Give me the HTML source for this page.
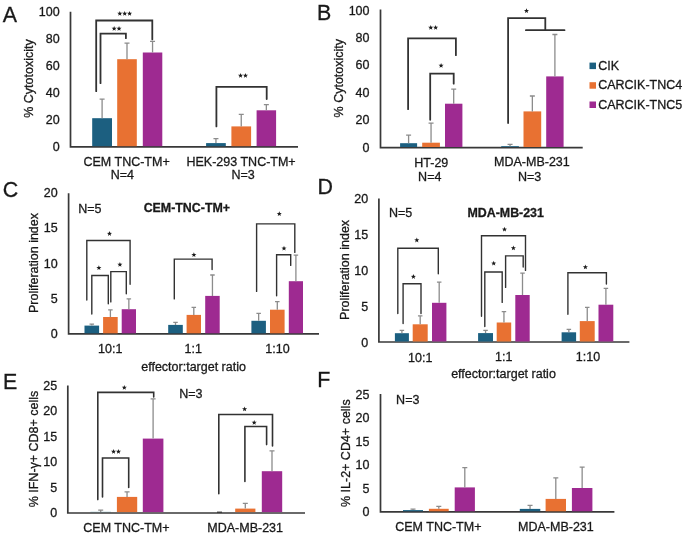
<!DOCTYPE html>
<html><head><meta charset="utf-8"><style>
html,body{margin:0;padding:0;background:#fff;}
svg{display:block;will-change:transform;}
text{font-family:"Liberation Sans",sans-serif;fill:#1a1a1a;stroke:#1a1a1a;stroke-width:0.3px;}
</style></head><body>
<svg width="685" height="537" viewBox="0 0 685 537">
<defs><filter id="bl" x="0" y="0" width="100%" height="100%"><feGaussianBlur stdDeviation="0.35"/></filter></defs>
<rect width="685" height="537" fill="#fff"/>
<g filter="url(#bl)">
<text x="9.9" y="22" text-anchor="middle" font-size="21.4" font-weight="normal" >A</text>
<path d="M70.5,11.8 V146.8 H298" fill="none" stroke="#383838" stroke-width="1.7" stroke-linecap="butt" stroke-linejoin="miter"/>
<text x="59.6" y="16.05" text-anchor="end" font-size="12.5" font-weight="normal" >100</text>
<text x="59.6" y="43.04" text-anchor="end" font-size="12.5" font-weight="normal" >80</text>
<text x="59.6" y="70.03" text-anchor="end" font-size="12.5" font-weight="normal" >60</text>
<text x="59.6" y="97.02" text-anchor="end" font-size="12.5" font-weight="normal" >40</text>
<text x="59.6" y="124.00999999999999" text-anchor="end" font-size="12.5" font-weight="normal" >20</text>
<text x="59.6" y="151.0" text-anchor="end" font-size="12.5" font-weight="normal" >0</text>
<text x="0" y="0" text-anchor="middle" font-size="12.5" transform="translate(33,78.5) rotate(-90)">% Cytotoxicity</text>
<rect x="92.2" y="118.2" width="19.80" height="28.00" fill="#1b5f80"/>
<path d="M102.10,118.2 V99.2 M99.60,99.2 H104.60" stroke="#8c8c8c" stroke-width="1.3" fill="none"/>
<rect x="117.2" y="59.2" width="19.60" height="87.00" fill="#e87131"/>
<path d="M127.00,59.2 V43.2 M124.50,43.2 H129.50" stroke="#8c8c8c" stroke-width="1.3" fill="none"/>
<rect x="142.8" y="52.5" width="19.50" height="93.70" fill="#9e2b91"/>
<path d="M152.55,52.5 V41.3 M150.05,41.3 H155.05" stroke="#8c8c8c" stroke-width="1.3" fill="none"/>
<rect x="206.1" y="143.1" width="19.70" height="3.10" fill="#1b5f80"/>
<path d="M215.95,143.1 V138.7 M213.45,138.7 H218.45" stroke="#8c8c8c" stroke-width="1.3" fill="none"/>
<rect x="231.4" y="126.4" width="19.70" height="19.80" fill="#e87131"/>
<path d="M241.25,126.4 V114.3 M238.75,114.3 H243.75" stroke="#8c8c8c" stroke-width="1.3" fill="none"/>
<rect x="256.6" y="110.3" width="19.50" height="35.90" fill="#9e2b91"/>
<path d="M266.35,110.3 V104.7 M263.85,104.7 H268.85" stroke="#8c8c8c" stroke-width="1.3" fill="none"/>
<path d="M96.2,91.2 V20.5 H152.3 V39.4" fill="none" stroke="#333333" stroke-width="1.8" stroke-linecap="round" stroke-linejoin="miter"/>
<polygon points="119.80,10.90 120.45,12.65 122.32,12.73 120.86,13.89 121.36,15.69 119.80,14.66 118.24,15.69 118.74,13.89 117.28,12.73 119.15,12.65" fill="#1a1a1a"/>
<polygon points="124.70,10.90 125.35,12.65 127.22,12.73 125.76,13.89 126.26,15.69 124.70,14.66 123.14,15.69 123.64,13.89 122.18,12.73 124.05,12.65" fill="#1a1a1a"/>
<polygon points="129.60,10.90 130.25,12.65 132.12,12.73 130.66,13.89 131.16,15.69 129.60,14.66 128.04,15.69 128.54,13.89 127.08,12.73 128.95,12.65" fill="#1a1a1a"/>
<path d="M100.5,83.2 V33.6 H125.9 V38.2" fill="none" stroke="#333333" stroke-width="1.8" stroke-linecap="round" stroke-linejoin="miter"/>
<polygon points="114.15,25.90 114.80,27.65 116.67,27.73 115.21,28.89 115.71,30.69 114.15,29.66 112.59,30.69 113.09,28.89 111.63,27.73 113.50,27.65" fill="#1a1a1a"/>
<polygon points="119.05,25.90 119.70,27.65 121.57,27.73 120.11,28.89 120.61,30.69 119.05,29.66 117.49,30.69 117.99,28.89 116.53,27.73 118.40,27.65" fill="#1a1a1a"/>
<path d="M216.4,126.4 V86.8 H266.7 V99.1" fill="none" stroke="#333333" stroke-width="1.8" stroke-linecap="round" stroke-linejoin="miter"/>
<polygon points="240.55,72.90 241.20,74.65 243.07,74.73 241.61,75.89 242.11,77.69 240.55,76.66 238.99,77.69 239.49,75.89 238.03,74.73 239.90,74.65" fill="#1a1a1a"/>
<polygon points="245.45,72.90 246.10,74.65 247.97,74.73 246.51,75.89 247.01,77.69 245.45,76.66 243.89,77.69 244.39,75.89 242.93,74.73 244.80,74.65" fill="#1a1a1a"/>
<text x="126.6" y="165.8" text-anchor="middle" font-size="12.5" font-weight="normal" >CEM TNC-TM+</text>
<text x="122.4" y="179.2" text-anchor="middle" font-size="12.5" font-weight="normal" >N=4</text>
<text x="241.1" y="166.3" text-anchor="middle" font-size="12.5" font-weight="normal" >HEK-293 TNC-TM+</text>
<text x="243.1" y="178.9" text-anchor="middle" font-size="12.5" font-weight="normal" >N=3</text>
<text x="324.2" y="20.1" text-anchor="middle" font-size="21.4" font-weight="normal" >B</text>
<path d="M380.5,9.4 V147.7 H582.7" fill="none" stroke="#383838" stroke-width="1.7" stroke-linecap="butt" stroke-linejoin="miter"/>
<text x="369.5" y="14.5" text-anchor="end" font-size="12.5" font-weight="normal" >100</text>
<text x="369.5" y="41.96" text-anchor="end" font-size="12.5" font-weight="normal" >80</text>
<text x="369.5" y="69.42" text-anchor="end" font-size="12.5" font-weight="normal" >60</text>
<text x="369.5" y="96.88" text-anchor="end" font-size="12.5" font-weight="normal" >40</text>
<text x="369.5" y="124.34" text-anchor="end" font-size="12.5" font-weight="normal" >20</text>
<text x="369.5" y="151.8" text-anchor="end" font-size="12.5" font-weight="normal" >0</text>
<text x="0" y="0" text-anchor="middle" font-size="12.5" transform="translate(343.2,78.2) rotate(-90)">% Cytotoxicity</text>
<rect x="400.1" y="143.2" width="17.00" height="3.80" fill="#1b5f80"/>
<path d="M408.60,143.2 V135.2 M406.10,135.2 H411.10" stroke="#8c8c8c" stroke-width="1.3" fill="none"/>
<rect x="422.2" y="142.7" width="17.70" height="4.30" fill="#e87131"/>
<path d="M431.05,142.7 V123.1 M428.55,123.1 H433.55" stroke="#8c8c8c" stroke-width="1.3" fill="none"/>
<rect x="445" y="103.7" width="17.40" height="43.30" fill="#9e2b91"/>
<path d="M453.70,103.7 V89.2 M451.20,89.2 H456.20" stroke="#8c8c8c" stroke-width="1.3" fill="none"/>
<rect x="501.2" y="146.2" width="17.70" height="0.80" fill="#1b5f80"/>
<path d="M510.05,146.2 V144.4 M507.55,144.4 H512.55" stroke="#8c8c8c" stroke-width="1.3" fill="none"/>
<rect x="523.5" y="111.4" width="17.70" height="35.60" fill="#e87131"/>
<path d="M532.35,111.4 V96 M529.85,96 H534.85" stroke="#8c8c8c" stroke-width="1.3" fill="none"/>
<rect x="546.2" y="76.4" width="17.40" height="70.60" fill="#9e2b91"/>
<path d="M554.90,76.4 V34.5 M552.40,34.5 H557.40" stroke="#8c8c8c" stroke-width="1.3" fill="none"/>
<path d="M408.1,109.2 V38.4 H455.9 V55.2" fill="none" stroke="#333333" stroke-width="1.8" stroke-linecap="round" stroke-linejoin="miter"/>
<polygon points="430.75,24.90 431.40,26.65 433.27,26.73 431.81,27.89 432.31,29.69 430.75,28.66 429.19,29.69 429.69,27.89 428.23,26.73 430.10,26.65" fill="#1a1a1a"/>
<polygon points="435.65,24.90 436.30,26.65 438.17,26.73 436.71,27.89 437.21,29.69 435.65,28.66 434.09,29.69 434.59,27.89 433.13,26.73 435.00,26.65" fill="#1a1a1a"/>
<path d="M430.2,119.8 V73.6 H453.7 V83.7" fill="none" stroke="#333333" stroke-width="1.8" stroke-linecap="round" stroke-linejoin="miter"/>
<polygon points="441.10,62.90 441.75,64.65 443.62,64.73 442.16,65.89 442.66,67.69 441.10,66.66 439.54,67.69 440.04,65.89 438.58,64.73 440.45,64.65" fill="#1a1a1a"/>
<path d="M508.1,123.1 V18.1 H545.3 V30.2" fill="none" stroke="#333333" stroke-width="1.8" stroke-linecap="round" stroke-linejoin="miter"/>
<path d="M525.9,30.2 H564.5" fill="none" stroke="#333333" stroke-width="1.8" stroke-linecap="round" stroke-linejoin="miter"/>
<polygon points="526.50,8.30 527.15,10.05 529.02,10.13 527.56,11.29 528.06,13.09 526.50,12.06 524.94,13.09 525.44,11.29 523.98,10.13 525.85,10.05" fill="#1a1a1a"/>
<text x="431.3" y="166.5" text-anchor="middle" font-size="12.5" font-weight="normal" >HT-29</text>
<text x="429.75" y="180.8" text-anchor="middle" font-size="12.5" font-weight="normal" >N=4</text>
<text x="531.9" y="166.4" text-anchor="middle" font-size="12.5" font-weight="normal" >MDA-MB-231</text>
<text x="529.6" y="181.3" text-anchor="middle" font-size="12.5" font-weight="normal" >N=3</text>
<rect x="589.5" y="62.6" width="6.5" height="6.5" fill="#1b5f80"/>
<rect x="589.5" y="82.2" width="6.5" height="6.5" fill="#e87131"/>
<rect x="589.5" y="101.5" width="6.5" height="6.5" fill="#9e2b91"/>
<text x="598.2" y="69.7" text-anchor="start" font-size="12.5" font-weight="normal" >CIK</text>
<text x="598.2" y="89.1" text-anchor="start" font-size="12.5" font-weight="normal" >CARCIK-TNC4</text>
<text x="598.2" y="108.6" text-anchor="start" font-size="12.5" font-weight="normal" >CARCIK-TNC5</text>
<text x="10.6" y="196.5" text-anchor="middle" font-size="21.4" font-weight="normal" >C</text>
<path d="M68.6,193.2 V333.8 H319" fill="none" stroke="#383838" stroke-width="1.7" stroke-linecap="butt" stroke-linejoin="miter"/>
<text x="57.6" y="197.0" text-anchor="end" font-size="12.5" font-weight="normal" >20</text>
<text x="57.6" y="232.3" text-anchor="end" font-size="12.5" font-weight="normal" >15</text>
<text x="57.6" y="267.6" text-anchor="end" font-size="12.5" font-weight="normal" >10</text>
<text x="57.6" y="302.9" text-anchor="end" font-size="12.5" font-weight="normal" >5</text>
<text x="57.6" y="338.2" text-anchor="end" font-size="12.5" font-weight="normal" >0</text>
<text x="0" y="0" text-anchor="middle" font-size="12.5" transform="translate(38,263) rotate(-90)">Proliferation index</text>
<rect x="84.5" y="325.6" width="14.60" height="7.70" fill="#1b5f80"/>
<path d="M91.80,325.6 V324.1 M89.55,324.1 H94.05" stroke="#8c8c8c" stroke-width="1.3" fill="none"/>
<rect x="103.1" y="317" width="14.60" height="16.30" fill="#e87131"/>
<path d="M110.40,317 V309.8 M108.15,309.8 H112.65" stroke="#8c8c8c" stroke-width="1.3" fill="none"/>
<rect x="121.7" y="309.2" width="14.30" height="24.10" fill="#9e2b91"/>
<path d="M128.85,309.2 V298.9 M126.60,298.9 H131.10" stroke="#8c8c8c" stroke-width="1.3" fill="none"/>
<rect x="168.2" y="324.9" width="14.60" height="8.40" fill="#1b5f80"/>
<path d="M175.50,324.9 V322.4 M173.25,322.4 H177.75" stroke="#8c8c8c" stroke-width="1.3" fill="none"/>
<rect x="186.6" y="314.9" width="14.40" height="18.40" fill="#e87131"/>
<path d="M193.80,314.9 V307.3 M191.55,307.3 H196.05" stroke="#8c8c8c" stroke-width="1.3" fill="none"/>
<rect x="205.2" y="295.9" width="14.50" height="37.40" fill="#9e2b91"/>
<path d="M212.45,295.9 V275 M210.20,275 H214.70" stroke="#8c8c8c" stroke-width="1.3" fill="none"/>
<rect x="251.4" y="320.8" width="14.50" height="12.50" fill="#1b5f80"/>
<path d="M258.65,320.8 V313.4 M256.40,313.4 H260.90" stroke="#8c8c8c" stroke-width="1.3" fill="none"/>
<rect x="270" y="309.7" width="14.60" height="23.60" fill="#e87131"/>
<path d="M277.30,309.7 V301.7 M275.05,301.7 H279.55" stroke="#8c8c8c" stroke-width="1.3" fill="none"/>
<rect x="288.8" y="281.2" width="14.20" height="52.10" fill="#9e2b91"/>
<path d="M295.90,281.2 V255.2 M293.65,255.2 H298.15" stroke="#8c8c8c" stroke-width="1.3" fill="none"/>
<path d="M86.8,300.1 V240.5 H130.1 V284.2" fill="none" stroke="#333333" stroke-width="1.4" stroke-linecap="round" stroke-linejoin="miter"/>
<polygon points="109.50,231.10 110.15,232.85 112.02,232.93 110.56,234.09 111.06,235.89 109.50,234.86 107.94,235.89 108.44,234.09 106.98,232.93 108.85,232.85" fill="#1a1a1a"/>
<path d="M91.8,314 V275.5 H108.3 V303.8" fill="none" stroke="#333333" stroke-width="1.4" stroke-linecap="round" stroke-linejoin="miter"/>
<polygon points="98.90,265.20 99.55,266.95 101.42,267.03 99.96,268.19 100.46,269.99 98.90,268.96 97.34,269.99 97.84,268.19 96.38,267.03 98.25,266.95" fill="#1a1a1a"/>
<path d="M110.8,301.9 V271.6 H126.3 V293.8" fill="none" stroke="#333333" stroke-width="1.4" stroke-linecap="round" stroke-linejoin="miter"/>
<polygon points="119.90,262.00 120.55,263.75 122.42,263.83 120.96,264.99 121.46,266.79 119.90,265.76 118.34,266.79 118.84,264.99 117.38,263.83 119.25,263.75" fill="#1a1a1a"/>
<path d="M174.3,298.9 V259.1 H212.1 V269.6" fill="none" stroke="#333333" stroke-width="1.4" stroke-linecap="round" stroke-linejoin="miter"/>
<polygon points="193.90,252.30 194.55,254.05 196.42,254.13 194.96,255.29 195.46,257.09 193.90,256.06 192.34,257.09 192.84,255.29 191.38,254.13 193.25,254.05" fill="#1a1a1a"/>
<path d="M256.6,291.4 V223.9 H294.8 V252.4" fill="none" stroke="#333333" stroke-width="1.4" stroke-linecap="round" stroke-linejoin="miter"/>
<polygon points="279.30,211.30 279.95,213.05 281.82,213.13 280.36,214.29 280.86,216.09 279.30,215.06 277.74,216.09 278.24,214.29 276.78,213.13 278.65,213.05" fill="#1a1a1a"/>
<path d="M276.6,295.7 V254.8 H290.7 V265.4" fill="none" stroke="#333333" stroke-width="1.4" stroke-linecap="round" stroke-linejoin="miter"/>
<polygon points="284.00,245.80 284.65,247.55 286.52,247.63 285.06,248.79 285.56,250.59 284.00,249.56 282.44,250.59 282.94,248.79 281.48,247.63 283.35,247.55" fill="#1a1a1a"/>
<text x="110.25" y="352.9" text-anchor="middle" font-size="12.5" font-weight="normal" >10:1</text>
<text x="193.3" y="352.9" text-anchor="middle" font-size="12.5" font-weight="normal" >1:1</text>
<text x="277.5" y="352.9" text-anchor="middle" font-size="12.5" font-weight="normal" >1:10</text>
<text x="193.6" y="370.5" text-anchor="middle" font-size="12.5" font-weight="normal" >effector:target ratio</text>
<text x="89.95" y="212.5" text-anchor="middle" font-size="12.5" font-weight="normal" >N=5</text>
<text x="186.85" y="212.4" text-anchor="middle" font-size="12.4" font-weight="bold" >CEM-TNC-TM+</text>
<text x="325.3" y="194.4" text-anchor="middle" font-size="21.4" font-weight="normal" >D</text>
<path d="M378.9,198.6 V342 H629.4" fill="none" stroke="#383838" stroke-width="1.7" stroke-linecap="butt" stroke-linejoin="miter"/>
<text x="368.1" y="203.1" text-anchor="end" font-size="12.5" font-weight="normal" >20</text>
<text x="368.1" y="238.95" text-anchor="end" font-size="12.5" font-weight="normal" >15</text>
<text x="368.1" y="274.8" text-anchor="end" font-size="12.5" font-weight="normal" >10</text>
<text x="368.1" y="310.65" text-anchor="end" font-size="12.5" font-weight="normal" >5</text>
<text x="368.1" y="346.5" text-anchor="end" font-size="12.5" font-weight="normal" >0</text>
<text x="0" y="0" text-anchor="middle" font-size="12.5" transform="translate(348.5,269.9) rotate(-90)">Proliferation index</text>
<rect x="394.9" y="333.2" width="14.00" height="8.30" fill="#1b5f80"/>
<path d="M401.90,333.2 V330.3 M399.65,330.3 H404.15" stroke="#8c8c8c" stroke-width="1.3" fill="none"/>
<rect x="412.7" y="324.3" width="15.00" height="17.20" fill="#e87131"/>
<path d="M420.20,324.3 V315.8 M417.95,315.8 H422.45" stroke="#8c8c8c" stroke-width="1.3" fill="none"/>
<rect x="432" y="302.8" width="14.40" height="38.70" fill="#9e2b91"/>
<path d="M439.20,302.8 V282.2 M436.95,282.2 H441.45" stroke="#8c8c8c" stroke-width="1.3" fill="none"/>
<rect x="478.1" y="333.1" width="14.90" height="8.40" fill="#1b5f80"/>
<path d="M485.55,333.1 V330.3 M483.30,330.3 H487.80" stroke="#8c8c8c" stroke-width="1.3" fill="none"/>
<rect x="496.7" y="322.5" width="14.50" height="19.00" fill="#e87131"/>
<path d="M503.95,322.5 V311.7 M501.70,311.7 H506.20" stroke="#8c8c8c" stroke-width="1.3" fill="none"/>
<rect x="515.3" y="295" width="14.40" height="46.50" fill="#9e2b91"/>
<path d="M522.50,295 V273.1 M520.25,273.1 H524.75" stroke="#8c8c8c" stroke-width="1.3" fill="none"/>
<rect x="561.6" y="332.3" width="14.50" height="9.20" fill="#1b5f80"/>
<path d="M568.85,332.3 V329.3 M566.60,329.3 H571.10" stroke="#8c8c8c" stroke-width="1.3" fill="none"/>
<rect x="579.8" y="321.1" width="14.90" height="20.40" fill="#e87131"/>
<path d="M587.25,321.1 V307.4 M585.00,307.4 H589.50" stroke="#8c8c8c" stroke-width="1.3" fill="none"/>
<rect x="598.5" y="304.7" width="14.80" height="36.80" fill="#9e2b91"/>
<path d="M605.90,304.7 V288.4 M603.65,288.4 H608.15" stroke="#8c8c8c" stroke-width="1.3" fill="none"/>
<path d="M397.8,313.6 V248.3 H438.3 V273.8" fill="none" stroke="#333333" stroke-width="1.4" stroke-linecap="round" stroke-linejoin="miter"/>
<polygon points="416.80,237.60 417.45,239.35 419.32,239.43 417.86,240.59 418.36,242.39 416.80,241.36 415.24,242.39 415.74,240.59 414.28,239.43 416.15,239.35" fill="#1a1a1a"/>
<path d="M403.1,323.6 V283.7 H421 V313.6" fill="none" stroke="#333333" stroke-width="1.4" stroke-linecap="round" stroke-linejoin="miter"/>
<polygon points="413.40,274.10 414.05,275.85 415.92,275.93 414.46,277.09 414.96,278.89 413.40,277.86 411.84,278.89 412.34,277.09 410.88,275.93 412.75,275.85" fill="#1a1a1a"/>
<path d="M481.5,316.3 V235.8 H525.5 V270.4" fill="none" stroke="#333333" stroke-width="1.4" stroke-linecap="round" stroke-linejoin="miter"/>
<polygon points="504.50,226.80 505.15,228.55 507.02,228.63 505.56,229.79 506.06,231.59 504.50,230.56 502.94,231.59 503.44,229.79 501.98,228.63 503.85,228.55" fill="#1a1a1a"/>
<path d="M484.8,326.6 V272 H502.2 V302.4" fill="none" stroke="#333333" stroke-width="1.4" stroke-linecap="round" stroke-linejoin="miter"/>
<polygon points="493.70,260.80 494.35,262.55 496.22,262.63 494.76,263.79 495.26,265.59 493.70,264.56 492.14,265.59 492.64,263.79 491.18,262.63 493.05,262.55" fill="#1a1a1a"/>
<path d="M505.6,287.4 V255.9 H523.2 V267.1" fill="none" stroke="#333333" stroke-width="1.4" stroke-linecap="round" stroke-linejoin="miter"/>
<polygon points="513.40,245.40 514.05,247.15 515.92,247.23 514.46,248.39 514.96,250.19 513.40,249.16 511.84,250.19 512.34,248.39 510.88,247.23 512.75,247.15" fill="#1a1a1a"/>
<path d="M567.9,314.3 V272.8 H606.4 V284" fill="none" stroke="#333333" stroke-width="1.4" stroke-linecap="round" stroke-linejoin="miter"/>
<polygon points="585.40,264.50 586.05,266.25 587.92,266.33 586.46,267.49 586.96,269.29 585.40,268.26 583.84,269.29 584.34,267.49 582.88,266.33 584.75,266.25" fill="#1a1a1a"/>
<text x="420.25" y="361.6" text-anchor="middle" font-size="12.5" font-weight="normal" >10:1</text>
<text x="503.75" y="361.4" text-anchor="middle" font-size="12.5" font-weight="normal" >1:1</text>
<text x="588" y="361.1" text-anchor="middle" font-size="12.5" font-weight="normal" >1:10</text>
<text x="503.5" y="378.4" text-anchor="middle" font-size="12.5" font-weight="normal" >effector:target ratio</text>
<text x="400.7" y="216.9" text-anchor="middle" font-size="12.5" font-weight="normal" >N=5</text>
<text x="505.7" y="217.2" text-anchor="middle" font-size="12.4" font-weight="bold" >MDA-MB-231</text>
<text x="10.2" y="388.7" text-anchor="middle" font-size="21.4" font-weight="normal" >E</text>
<path d="M67.8,385.5 V513 H305" fill="none" stroke="#383838" stroke-width="1.7" stroke-linecap="butt" stroke-linejoin="miter"/>
<text x="57.1" y="389.8" text-anchor="end" font-size="12.5" font-weight="normal" >25</text>
<text x="57.1" y="415.3" text-anchor="end" font-size="12.5" font-weight="normal" >20</text>
<text x="57.1" y="440.8" text-anchor="end" font-size="12.5" font-weight="normal" >15</text>
<text x="57.1" y="466.3" text-anchor="end" font-size="12.5" font-weight="normal" >10</text>
<text x="57.1" y="491.8" text-anchor="end" font-size="12.5" font-weight="normal" >5</text>
<text x="57.1" y="517.3" text-anchor="end" font-size="12.5" font-weight="normal" >0</text>
<text x="0" y="0" text-anchor="middle" font-size="12.5" transform="translate(37.6,449) rotate(-90)">% IFN-γ+ CD8+ cells</text>
<rect x="90.4" y="511.9" width="20.60" height="0.20" fill="#1b5f80"/>
<path d="M100.70,511.9 V510.1 M98.20,510.1 H103.20" stroke="#8c8c8c" stroke-width="1.3" fill="none"/>
<rect x="116.9" y="496.9" width="20.30" height="15.20" fill="#e87131"/>
<path d="M127.05,496.9 V491.9 M124.55,491.9 H129.55" stroke="#8c8c8c" stroke-width="1.3" fill="none"/>
<rect x="142.8" y="438.6" width="20.60" height="73.50" fill="#9e2b91"/>
<path d="M153.10,438.6 V398.9 M150.60,398.9 H155.60" stroke="#8c8c8c" stroke-width="1.3" fill="none"/>
<rect x="235.2" y="508.6" width="20.20" height="3.50" fill="#e87131"/>
<path d="M245.30,508.6 V503.3 M242.80,503.3 H247.80" stroke="#8c8c8c" stroke-width="1.3" fill="none"/>
<rect x="261.8" y="471.2" width="20.40" height="40.90" fill="#9e2b91"/>
<path d="M272.00,471.2 V450.9 M269.50,450.9 H274.50" stroke="#8c8c8c" stroke-width="1.3" fill="none"/>
<path d="M97.8,499.6 V392.4 H153.7 V397" fill="none" stroke="#333333" stroke-width="1.6" stroke-linecap="round" stroke-linejoin="miter"/>
<polygon points="124.30,385.00 124.95,386.75 126.82,386.83 125.36,387.99 125.86,389.79 124.30,388.76 122.74,389.79 123.24,387.99 121.78,386.83 123.65,386.75" fill="#1a1a1a"/>
<path d="M102.5,496.9 V458 H128.7 V487.4" fill="none" stroke="#333333" stroke-width="1.6" stroke-linecap="round" stroke-linejoin="miter"/>
<polygon points="113.55,449.00 114.20,450.75 116.07,450.83 114.61,451.99 115.11,453.79 113.55,452.76 111.99,453.79 112.49,451.99 111.03,450.83 112.90,450.75" fill="#1a1a1a"/>
<polygon points="118.45,449.00 119.10,450.75 120.97,450.83 119.51,451.99 120.01,453.79 118.45,452.76 116.89,453.79 117.39,451.99 115.93,450.83 117.80,450.75" fill="#1a1a1a"/>
<path d="M218.8,493.8 V414.5 H272.5 V445.9" fill="none" stroke="#333333" stroke-width="1.6" stroke-linecap="round" stroke-linejoin="miter"/>
<polygon points="244.60,406.50 245.25,408.25 247.12,408.33 245.66,409.49 246.16,411.29 244.60,410.26 243.04,411.29 243.54,409.49 242.08,408.33 243.95,408.25" fill="#1a1a1a"/>
<path d="M244.9,481.4 V426.5 H266.6 V444.6" fill="none" stroke="#333333" stroke-width="1.6" stroke-linecap="round" stroke-linejoin="miter"/>
<polygon points="254.20,419.90 254.85,421.65 256.72,421.73 255.26,422.89 255.76,424.69 254.20,423.66 252.64,424.69 253.14,422.89 251.68,421.73 253.55,421.65" fill="#1a1a1a"/>
<text x="126.4" y="531.8" text-anchor="middle" font-size="12.5" font-weight="normal" >CEM TNC-TM+</text>
<text x="245.15" y="531.8" text-anchor="middle" font-size="12.5" font-weight="normal" >MDA-MB-231</text>
<rect x="217" y="511.6" width="5" height="1.2" fill="#333"/>
<text x="190.9" y="397.9" text-anchor="middle" font-size="12.5" font-weight="normal" >N=3</text>
<text x="323.9" y="386.8" text-anchor="middle" font-size="21.4" font-weight="normal" >F</text>
<path d="M380.5,394 V511.8 H614.4" fill="none" stroke="#383838" stroke-width="1.7" stroke-linecap="butt" stroke-linejoin="miter"/>
<text x="369.5" y="398.6" text-anchor="end" font-size="12.5" font-weight="normal" >25</text>
<text x="369.5" y="422.14000000000004" text-anchor="end" font-size="12.5" font-weight="normal" >20</text>
<text x="369.5" y="445.68" text-anchor="end" font-size="12.5" font-weight="normal" >15</text>
<text x="369.5" y="469.22" text-anchor="end" font-size="12.5" font-weight="normal" >10</text>
<text x="369.5" y="492.76" text-anchor="end" font-size="12.5" font-weight="normal" >5</text>
<text x="369.5" y="516.3" text-anchor="end" font-size="12.5" font-weight="normal" >0</text>
<text x="0" y="0" text-anchor="middle" font-size="12.5" transform="translate(349.5,453.2) rotate(-90)">% IL-2+ CD4+ cells</text>
<rect x="403" y="510.1" width="20.00" height="1.20" fill="#1b5f80"/>
<path d="M413.00,510.1 V509.2 M410.50,509.2 H415.50" stroke="#8c8c8c" stroke-width="1.3" fill="none"/>
<rect x="428.9" y="508.8" width="19.80" height="2.50" fill="#e87131"/>
<path d="M438.80,508.8 V506.3 M436.30,506.3 H441.30" stroke="#8c8c8c" stroke-width="1.3" fill="none"/>
<rect x="454.7" y="487.4" width="20.20" height="23.90" fill="#9e2b91"/>
<path d="M464.80,487.4 V467.7 M462.30,467.7 H467.30" stroke="#8c8c8c" stroke-width="1.3" fill="none"/>
<rect x="519.8" y="508.9" width="20.50" height="2.40" fill="#1b5f80"/>
<path d="M530.05,508.9 V505.4 M527.55,505.4 H532.55" stroke="#8c8c8c" stroke-width="1.3" fill="none"/>
<rect x="545.6" y="498.9" width="20.40" height="12.40" fill="#e87131"/>
<path d="M555.80,498.9 V477.8 M553.30,477.8 H558.30" stroke="#8c8c8c" stroke-width="1.3" fill="none"/>
<rect x="571.9" y="488" width="20.50" height="23.30" fill="#9e2b91"/>
<path d="M582.15,488 V467.2 M579.65,467.2 H584.65" stroke="#8c8c8c" stroke-width="1.3" fill="none"/>
<text x="438.35" y="530.9" text-anchor="middle" font-size="12.5" font-weight="normal" >CEM TNC-TM+</text>
<text x="555.9" y="530.9" text-anchor="middle" font-size="12.5" font-weight="normal" >MDA-MB-231</text>
<text x="407.75" y="403.6" text-anchor="middle" font-size="12.5" font-weight="normal" >N=3</text>
</g>
</svg></body></html>
